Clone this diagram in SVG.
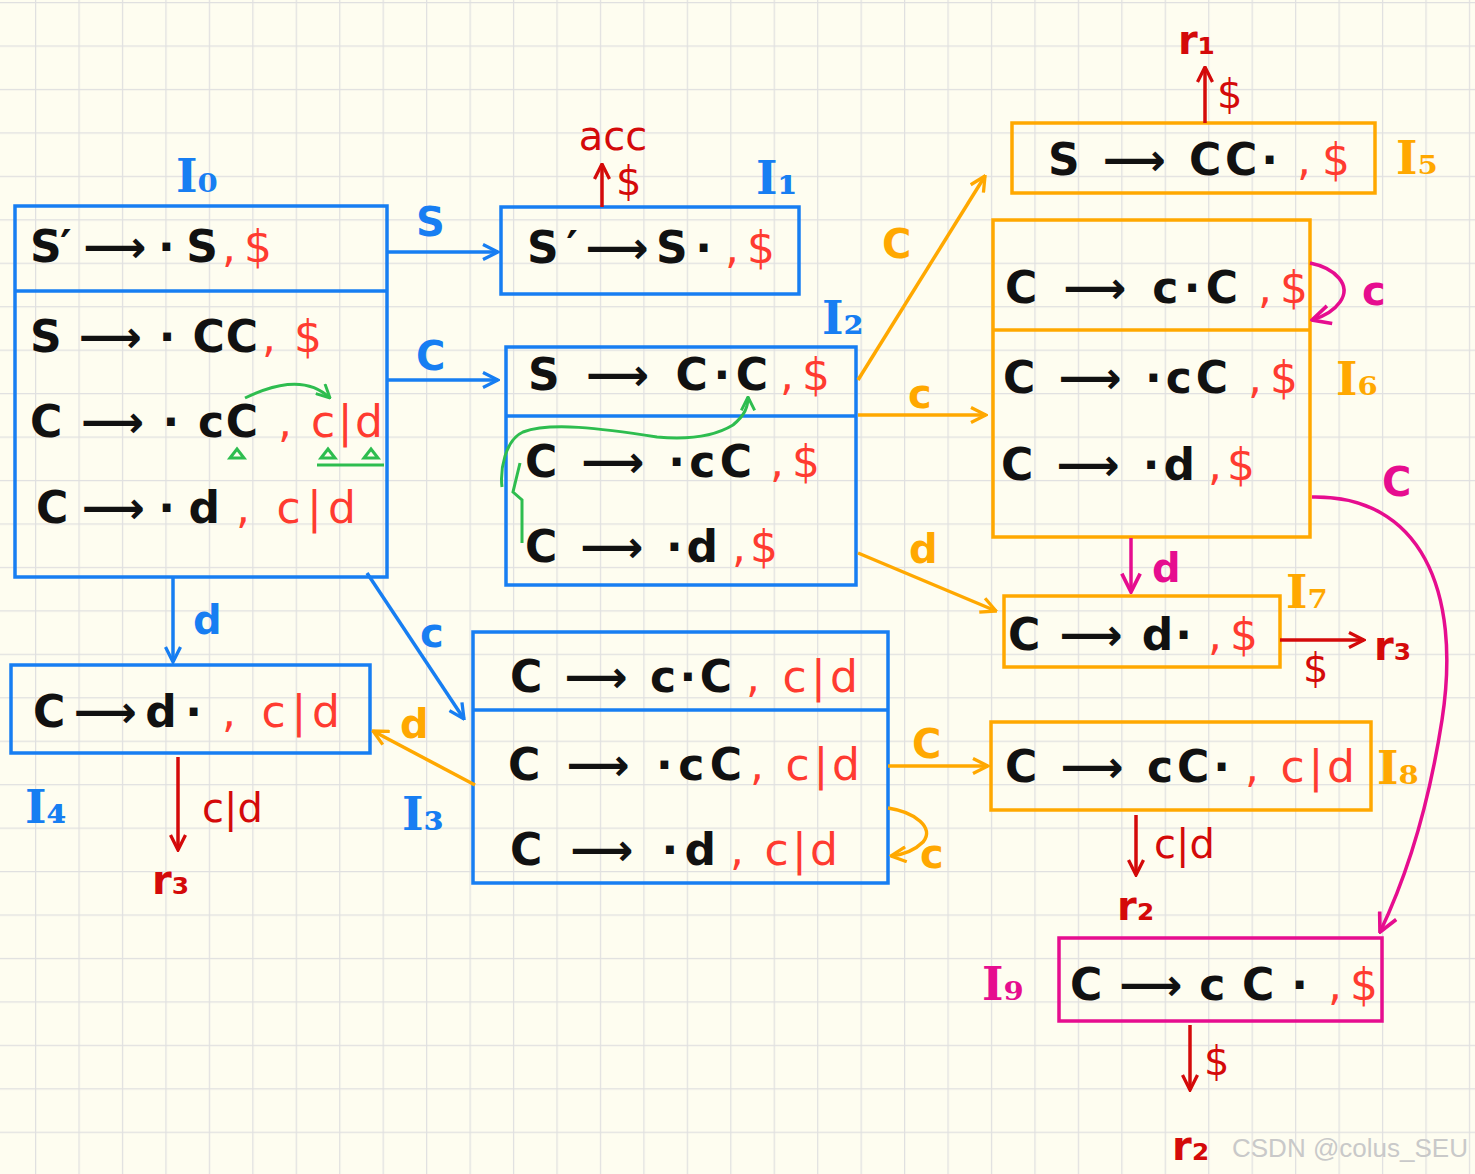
<svg xmlns="http://www.w3.org/2000/svg" width="1475" height="1174" viewBox="0 0 1475 1174">
<style>
.bg{fill:#fefdf0}
.box{fill:none;stroke-width:3.5}
.b{stroke:#177ef2}
.o{stroke:#ffa800}
.m{stroke:#e60d8f}
.t{font-family:"DejaVu Sans",sans-serif;font-size:44px;fill:#111;font-weight:bold}
.la{font-family:"DejaVu Sans",sans-serif;font-size:44px;fill:#ff3b30}
.lbl{font-family:"DejaVu Sans",sans-serif;font-size:40px}
.cl{font-weight:bold}
.id{font-family:"DejaVu Serif",serif;font-size:46px;font-weight:bold}
.fb{fill:#177ef2}.fo{fill:#ffa800}.fm{fill:#e60d8f}.fr{fill:#d40a0a}
.rr{font-weight:bold}
.ln{fill:none;stroke-width:3.5}
.rd{stroke:#d40a0a}
.g{stroke:#2ebd4f;fill:none;stroke-width:3}
</style>
<defs>
<pattern id="grid" x="35" y="2" width="43.45" height="43.45" patternUnits="userSpaceOnUse">
<path d="M0,0 H43.45 M0,0 V43.45" stroke="#e0e0e0" stroke-width="2.5" fill="none"/>
</pattern>
<marker id="ab" viewBox="0 0 12 12" refX="11" refY="6" markerWidth="18" markerHeight="18" markerUnits="userSpaceOnUse" orient="auto"><path d="M1,1 L11,6 L1,11" fill="none" stroke="#177ef2" stroke-width="2.2"/></marker>
<marker id="ao" viewBox="0 0 12 12" refX="11" refY="6" markerWidth="18" markerHeight="18" markerUnits="userSpaceOnUse" orient="auto"><path d="M1,1 L11,6 L1,11" fill="none" stroke="#ffa800" stroke-width="2.2"/></marker>
<marker id="am" viewBox="0 0 12 12" refX="11" refY="6" markerWidth="22" markerHeight="22" markerUnits="userSpaceOnUse" orient="auto"><path d="M1,1 L11,6 L1,11" fill="none" stroke="#e60d8f" stroke-width="2"/></marker>
<marker id="ar" viewBox="0 0 12 12" refX="11" refY="6" markerWidth="18" markerHeight="18" markerUnits="userSpaceOnUse" orient="auto"><path d="M1,1 L11,6 L1,11" fill="none" stroke="#d40a0a" stroke-width="2.2"/></marker>
<marker id="ag" viewBox="0 0 12 12" refX="11" refY="6" markerWidth="16" markerHeight="16" markerUnits="userSpaceOnUse" orient="auto"><path d="M1,1 L11,6 L1,11" fill="none" stroke="#2ebd4f" stroke-width="2.2"/></marker>
</defs>
<rect class="bg" x="0" y="0" width="1475" height="1174"/>
<rect x="0" y="0" width="1475" height="1174" fill="url(#grid)"/>

<g id="I0">
<rect class="box b" x="15" y="206" width="372" height="371"/>
<line class="ln b" x1="15" y1="291" x2="387" y2="291"/>
<text class="t" x="30" y="262" textLength="188" lengthAdjust="spacing">S′ ⟶ · S</text>
<text class="la" x="222" y="262" textLength="50" lengthAdjust="spacing">, $</text>
<text class="t" x="30" y="352" textLength="228" lengthAdjust="spacing">S ⟶ · CC</text>
<text class="la" x="262" y="352" textLength="60" lengthAdjust="spacing">, $</text>
<text class="t" x="30" y="437" textLength="228" lengthAdjust="spacing">C ⟶ · cC</text>
<text class="la" x="278" y="437" textLength="105" lengthAdjust="spacing">, c|d</text>
<text class="t" x="36" y="523" textLength="184" lengthAdjust="spacing">C ⟶ · d</text>
<text class="la" x="236" y="523" textLength="120" lengthAdjust="spacing">, c|d</text>
<path class="g" d="M245,398 C270,386 305,374 330,398" marker-end="url(#ag)"/>
<path class="g" d="M230,458 L237,449 L244,458 Z"/>
<path class="g" d="M321,458 L328,449 L335,458 Z"/>
<path class="g" d="M364,458 L371,449 L378,458 Z"/>
<line class="g" x1="317" y1="465" x2="384" y2="465"/>
<text class="id fb" x="176" y="192">I₀</text>
</g>

<g id="I1">
<rect class="box b" x="501" y="207" width="298" height="87"/>
<text class="t" x="527" y="263" textLength="185" lengthAdjust="spacing">S′⟶S·</text>
<text class="la" x="725" y="263" textLength="50" lengthAdjust="spacing">, $</text>
<text class="id fb" x="756" y="194">I₁</text>
</g>

<g id="I2">
<rect class="box b" x="506" y="347" width="350" height="238"/>
<line class="ln b" x1="506" y1="416" x2="856" y2="416"/>
<text class="t" x="528" y="390" textLength="240" lengthAdjust="spacing">S ⟶ C·C</text>
<text class="la" x="780" y="390" textLength="50" lengthAdjust="spacing">, $</text>
<text class="t" x="525" y="477" textLength="227" lengthAdjust="spacing">C ⟶ ·cC</text>
<text class="la" x="770" y="477" textLength="50" lengthAdjust="spacing">, $</text>
<text class="t" x="525" y="562" textLength="193" lengthAdjust="spacing">C ⟶ ·d</text>
<text class="la" x="732" y="562" textLength="46" lengthAdjust="spacing">, $</text>
<path class="g" d="M520,463 L513,492 L522,500 L522,543"/>
<path class="g" d="M502,487 C500,470 505,440 523,432 C550,422 600,428 657,437 C690,440 715,436 733,425 C745,415 748,407 748,397" marker-end="url(#ag)"/>
<text class="id fb" x="822" y="334">I₂</text>
</g>

<g id="I3">
<rect class="box b" x="473" y="632" width="415" height="251"/>
<line class="ln b" x1="473" y1="710" x2="888" y2="710"/>
<text class="t" x="510" y="692" textLength="222" lengthAdjust="spacing">C ⟶ c·C</text>
<text class="la" x="746" y="692" textLength="112" lengthAdjust="spacing">, c|d</text>
<text class="t" x="508" y="780" textLength="234" lengthAdjust="spacing">C ⟶ ·cC</text>
<text class="la" x="750" y="780" textLength="110" lengthAdjust="spacing">, c|d</text>
<text class="t" x="510" y="865" textLength="206" lengthAdjust="spacing">C ⟶ ·d</text>
<text class="la" x="730" y="865" textLength="108" lengthAdjust="spacing">, c|d</text>
<text class="id fb" x="402" y="830">I₃</text>
</g>

<g id="I4">
<rect class="box b" x="11" y="665" width="359" height="88"/>
<text class="t" x="33" y="727" textLength="169" lengthAdjust="spacing">C⟶d·</text>
<text class="la" x="222" y="727" textLength="118" lengthAdjust="spacing">, c|d</text>
<text class="id fb" x="25" y="823">I₄</text>
</g>

<g id="I5">
<rect class="box o" x="1012" y="123" width="363" height="70"/>
<text class="t" x="1048" y="175" textLength="230" lengthAdjust="spacing">S ⟶ CC·</text>
<text class="la" x="1297" y="175" textLength="53" lengthAdjust="spacing">, $</text>
<text class="id fo" x="1396" y="174">I₅</text>
</g>

<g id="I6">
<rect class="box o" x="993" y="220" width="317" height="317" stroke-width="5"/>
<line class="ln o" x1="993" y1="330" x2="1310" y2="330" stroke-width="6"/>
<text class="t" x="1005" y="303" textLength="233" lengthAdjust="spacing">C ⟶ c·C</text>
<text class="la" x="1258" y="303" textLength="50" lengthAdjust="spacing">, $</text>
<text class="t" x="1003" y="393" textLength="225" lengthAdjust="spacing">C ⟶ ·cC</text>
<text class="la" x="1248" y="393" textLength="50" lengthAdjust="spacing">, $</text>
<text class="t" x="1001" y="480" textLength="194" lengthAdjust="spacing">C ⟶ ·d</text>
<text class="la" x="1208" y="480" textLength="47" lengthAdjust="spacing">, $</text>
<text class="id fo" x="1336" y="395">I₆</text>
</g>

<g id="I7">
<rect class="box o" x="1004" y="596" width="276" height="71"/>
<text class="t" x="1008" y="650" textLength="184" lengthAdjust="spacing">C ⟶ d·</text>
<text class="la" x="1208" y="650" textLength="50" lengthAdjust="spacing">, $</text>
<text class="id fo" x="1286" y="608">I₇</text>
</g>

<g id="I8">
<rect class="box o" x="991" y="722" width="380" height="88"/>
<text class="t" x="1005" y="782" textLength="225" lengthAdjust="spacing">C ⟶ cC·</text>
<text class="la" x="1245" y="782" textLength="110" lengthAdjust="spacing">, c|d</text>
<text class="id fo" x="1377" y="784">I₈</text>
</g>

<g id="I9">
<rect class="box m" x="1059" y="938" width="323" height="83"/>
<text class="t" x="1070" y="1000" textLength="238" lengthAdjust="spacing">C⟶cC·</text>
<text class="la" x="1328" y="1000" textLength="50" lengthAdjust="spacing">, $</text>
<text class="id fm" x="982" y="1000">I₉</text>
</g>

<g id="connectors">
<line class="ln b" x1="388" y1="252" x2="498" y2="252" marker-end="url(#ab)"/>
<text class="lbl cl fb" x="416" y="236" font-size="34">S</text>
<line class="ln b" x1="388" y1="380" x2="498" y2="380" marker-end="url(#ab)"/>
<text class="lbl cl fb" x="416" y="370" font-size="40">C</text>
<line class="ln b" x1="173" y1="578" x2="173" y2="662" marker-end="url(#ab)"/>
<text class="lbl cl fb" x="193" y="634" font-size="34">d</text>
<line class="ln b" x1="367" y1="573" x2="464" y2="719" marker-end="url(#ab)"/>
<text class="lbl cl fb" x="420" y="647" font-size="30">c</text>
<line class="ln o" x1="475" y1="785" x2="373" y2="731" marker-end="url(#ao)"/>
<text class="lbl cl fo" x="400" y="738" font-size="34">d</text>
<line class="ln o" x1="858" y1="380" x2="985" y2="176" marker-end="url(#ao)"/>
<text class="lbl cl fo" x="882" y="258" font-size="52">C</text>
<line class="ln o" x1="858" y1="415" x2="986" y2="415" marker-end="url(#ao)"/>
<text class="lbl cl fo" x="908" y="408" font-size="32">c</text>
<line class="ln o" x1="858" y1="553" x2="996" y2="611" marker-end="url(#ao)"/>
<text class="lbl cl fo" x="909" y="563" font-size="40">d</text>
<line class="ln o" x1="888" y1="766" x2="988" y2="766" marker-end="url(#ao)"/>
<text class="lbl cl fo" x="912" y="758" font-size="46">C</text>
<path class="ln o" d="M888,808 C915,812 935,828 923,842 C913,852 900,855 891,856" marker-end="url(#ao)"/>
<text class="lbl cl fo" x="920" y="868" font-size="30">c</text>
<path class="ln m" d="M1310,263 C1335,268 1352,285 1340,302 C1333,312 1322,317 1312,320" marker-end="url(#am)"/>
<text class="lbl cl fm" x="1362" y="305" font-size="38">c</text>
<line class="ln m" x1="1131" y1="538" x2="1131" y2="592" stroke-width="3" marker-end="url(#am)"/>
<text class="lbl cl fm" x="1152" y="582" font-size="40">d</text>
<path class="ln m" d="M1312,497 C1420,495 1462,590 1442,720 C1428,810 1405,880 1380,932" stroke-width="3" marker-end="url(#am)"/>
<text class="lbl cl fm" x="1382" y="496" font-size="58">C</text>
</g>

<g id="actions">
<line class="ln rd" x1="602" y1="207" x2="602" y2="164" marker-end="url(#ar)"/>
<text class="lbl fr" x="616" y="195" font-size="30">$</text>
<text class="lbl fr" x="613" y="150" font-size="32" text-anchor="middle">acc</text>
<line class="ln rd" x1="1205" y1="123" x2="1205" y2="67" marker-end="url(#ar)"/>
<text class="lbl fr" x="1217" y="108" font-size="32">$</text>
<text class="lbl fr rr" x="1178" y="54" font-size="60">r₁</text>
<line class="ln rd" x1="1280" y1="640" x2="1364" y2="640" marker-end="url(#ar)"/>
<text class="lbl fr rr" x="1374" y="660" font-size="56">r₃</text>
<text class="lbl fr" x="1303" y="682" font-size="32">$</text>
<line class="ln rd" x1="178" y1="757" x2="178" y2="850" marker-end="url(#ar)"/>
<text class="lbl fr" x="202" y="822" font-size="44">c|d</text>
<text class="lbl fr rr" x="152" y="894" font-size="60">r₃</text>
<line class="ln rd" x1="1136" y1="815" x2="1136" y2="875" marker-end="url(#ar)"/>
<text class="lbl fr" x="1154" y="858" font-size="40">c|d</text>
<text class="lbl fr rr" x="1117" y="920" font-size="56">r₂</text>
<line class="ln rd" x1="1190" y1="1025" x2="1190" y2="1090" marker-end="url(#ar)"/>
<text class="lbl fr" x="1204" y="1075" font-size="38">$</text>
<text class="lbl fr rr" x="1172" y="1160" font-size="62">r₂</text>
</g>
<text x="1232" y="1157" font-family="Liberation Sans, sans-serif" font-size="26" fill="#c9c9c9">CSDN @colus_SEU</text>
</svg>
